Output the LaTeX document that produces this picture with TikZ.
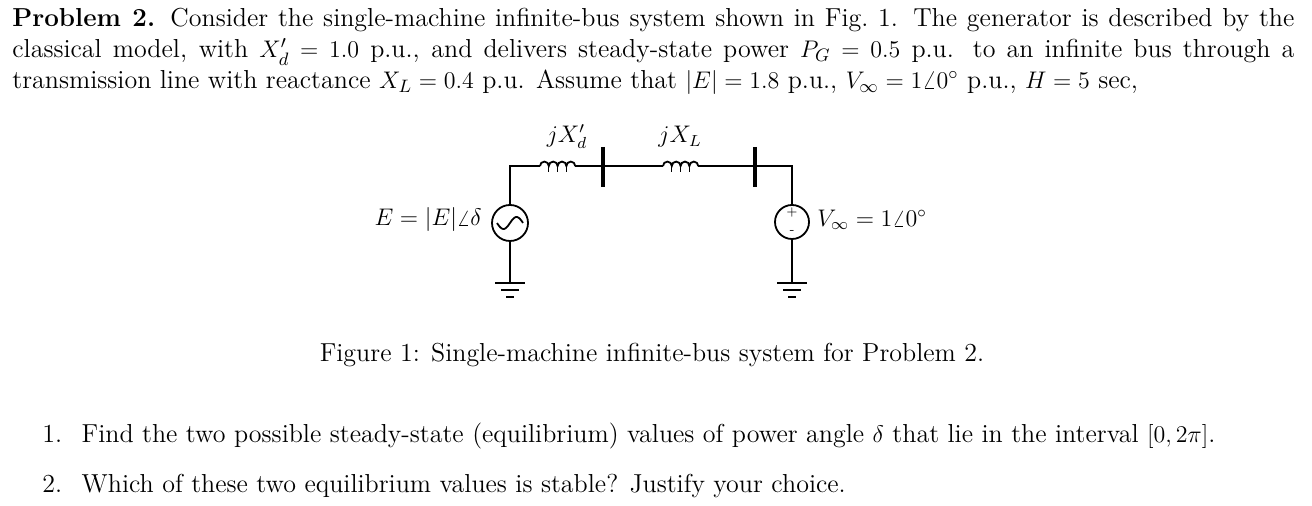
\documentclass[tikz,border=0pt]{standalone}
\usepackage{amsmath}
\usetikzlibrary{calc}
\tikzset{wire/.style={line width=0.9pt},bus/.style={line width=2.2pt},
 txt/.style={inner sep=0pt,font=\fontsize{13}{15.5}\selectfont},
 lab/.style={inner sep=1pt,font=\fontsize{11.8}{13}\selectfont}}
\begin{document}
\begin{tikzpicture}[x=0.5pt,y=-0.5pt]
\useasboundingbox (0,0) rectangle (1312,506);
\node[txt,anchor=north west,text width=641pt,align=justify] (p) at (12,8)
{\textbf{Problem 2.} Consider the single-machine infinite-bus system shown in Fig.~1. The generator is described by the\linebreak classical model, with $X_d'=1.0$ p.u., and delivers steady-state power $P_G=0.5$ p.u. to an infinite bus through a\linebreak transmission line with reactance $X_L=0.4$ p.u. Assume that $|E|=1.8$ p.u., $V_\infty=1\angle0^\circ$ p.u., $H=5$ sec,};
% circuit
\node[circle,draw,wire,minimum size=18pt,inner sep=0pt] (g) at (510,223) {};
\draw[wire] plot[domain=-13:13,samples=40,smooth] ({510+\x},{223-6*sin(\x*13.8)});
\node[circle,draw,wire,minimum size=17pt,inner sep=0pt] (v) at (792,222) {};
\node[font=\fontsize{6}{6}\selectfont,inner sep=0pt] at (792,213) {+};
\node[font=\fontsize{6}{6}\selectfont,inner sep=0pt] at (792,232) {-};
\coordinate (a) at (510,166); \coordinate (l1s) at (540,166); \coordinate (l1e) at (575,166);
\coordinate (b1) at (603,166); \coordinate (l2s) at (663,166); \coordinate (l2e) at (698,166);
\coordinate (b2) at (755,166); \coordinate (c) at (792,166);
\draw[wire] (g.north) -- (a) -- (l1s);
\draw[wire] (l1e) -- (b1) -- (l2s);
\draw[wire] (l2e) -- (b2) -- (c) -- (v.north);
\foreach \s in {540,663}{
  \draw[wire] (\s,166) arc(180:360:4.4) arc(180:360:4.4) arc(180:360:4.4) arc(180:360:4.4);
  \foreach \k in {1,2,3} \draw[line width=0.6pt] (\s+\k*8.8,166)--(\s+\k*8.8,172);
}
\draw[bus] (603,147) -- (603,187);
\draw[bus] (755,147) -- (755,187);
\coordinate (g1) at (510,283); \coordinate (g2) at (792,283);
\draw[wire] (g.south) -- (g1); \draw[wire] (v.south) -- (g2);
\foreach \p in {g1,g2}{
  \draw[line width=1pt] ($(\p)+(-15,0)$) -- ($(\p)+(15,0)$);
  \draw[line width=1.3pt] ($(\p)+(-9,7)$) -- ($(\p)+(9,7)$);
  \draw[line width=1.3pt] ($(\p)+(-4,14)$) -- ($(\p)+(4,14)$);
}
\node[lab] at (567,137) {$jX_d'$};
\node[lab] at (680,137) {$jX_L$};
\node[lab,anchor=east] at (484,220) {$E=|E|\angle\delta$};
\node[lab,anchor=west] at (815,220) {$V_\infty=1\angle0^\circ$};
\node[txt] (cap) at (652,355) {Figure 1: Single-machine infinite-bus system for Problem 2.};
\node[txt,anchor=base west] (i1) at (42,443) {1.\hspace{0.75em}Find the two possible steady-state (equilibrium) values of power angle $\delta$ that lie in the interval $[0,2\pi]$.};
\node[txt,anchor=base west] (i2) at (42,493) {2.\hspace{0.75em}Which of these two equilibrium values is stable? Justify your choice.};
\end{tikzpicture}
\end{document}
